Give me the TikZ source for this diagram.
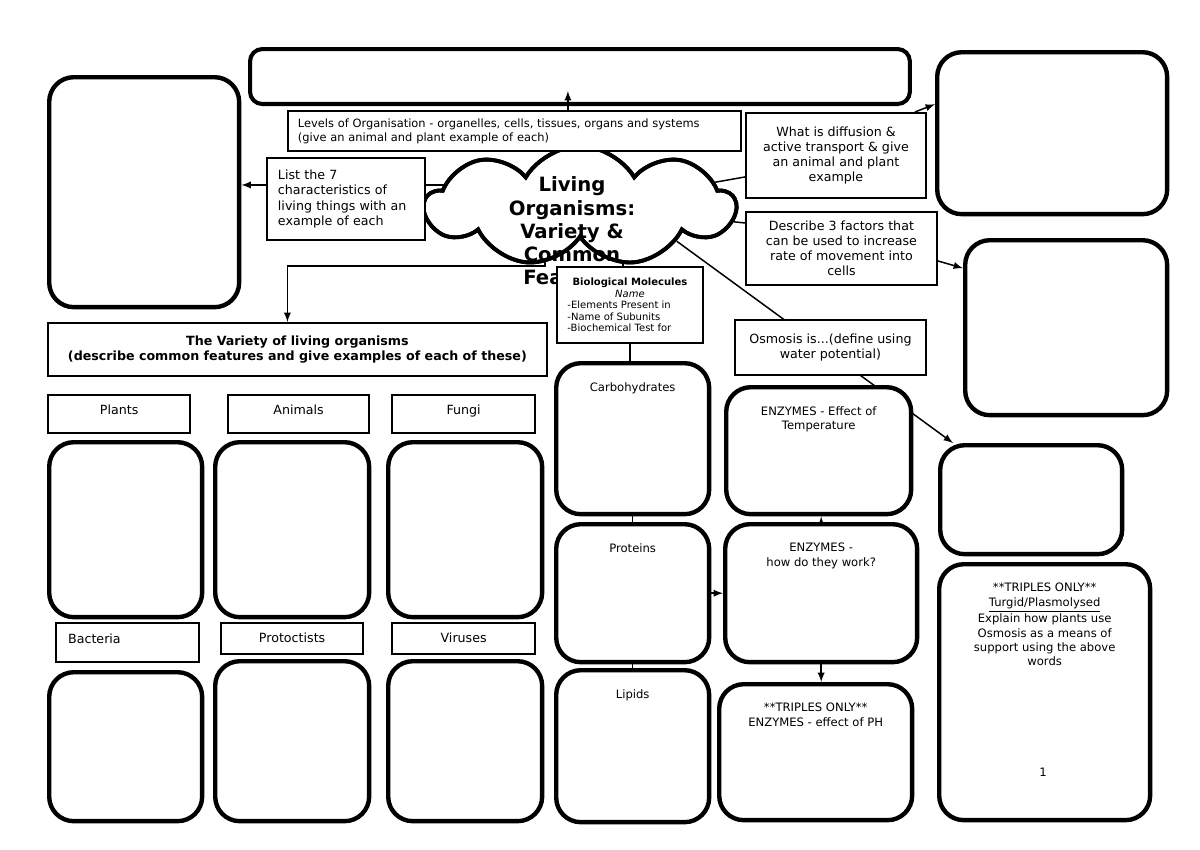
\documentclass[tikz,border=0pt]{standalone}
\usepackage{fontspec}
\setmainfont{DejaVu Sans}
\usetikzlibrary{
    arrows,
    shapes.symbols,
    positioning,
    backgrounds
}

\begin{document}
\begin{tikzpicture}[x=0.02cm, y=-0.02cm,
    bigbox/.style={draw, line width=2.5pt, rounded corners=14pt, fill=white, anchor=north west, inner sep=0pt},
    txtbox/.style={draw, line width=1.1pt, fill=white, anchor=north west, align=center, font=\fontsize{7.2}{8.6}\selectfont},
    tag/.style={txtbox, line width=1.3pt, text depth=5pt},
    boxhead/.style={anchor=north, align=center, font=\fontsize{6.6}{8.2}\selectfont},
    blob/.style={cloud, cloud puffs=9, cloud puff arc=120, aspect=2.6, line width=2.2pt, minimum width=6.2cm, minimum height=2.4cm},
    link/.style={line width=0.85pt},
    arr/.style={link, -latex}]
                        \useasboundingbox (0,0) rectangle (1200,849);
                        \node[bigbox, rounded corners=7pt, line width=2.3pt, minimum width=13.2cm, minimum height=1.1cm] (topbar) at (248,47) {};
                        \node[bigbox, minimum width=3.8cm, minimum height=4.6cm] (leftbig) at (47,75) {};
                        \node[bigbox, minimum width=4.6cm, minimum height=3.24cm] (diffbig) at (935,50) {};
                        \node[bigbox, minimum width=4.04cm, minimum height=3.5cm] (factbig) at (963,238) {};
                        \node[bigbox, minimum width=3.64cm, minimum height=2.18cm] (osmobig) at (938,443) {};
                        \node[bigbox, minimum width=4.22cm, minimum height=5.12cm] (turgid) at (937,562) {};
                        \node[boxhead] (turgidhead) at ([yshift=-0.3cm]turgid.north) {**TRIPLES ONLY**\\\underline{Turgid/Plasmolysed}\\Explain how plants use\\Osmosis as a means of\\support using the above\\words};
                        \node[boxhead, anchor=center] (pagenum) at (1043,772) {1};
                        % centre of the map
                        \node[blob, draw, fill=white] (cloud) at (580,206) {};
                        \node[font=\bfseries\fontsize{11.2}{13.2}\selectfont, align=center] (title) at (572,231) {Living\\Organisms:\\Variety \&\\Common\\Features};
                        \node[blob, draw] (cloudrim) at (cloud) {};
                        \node[txtbox, align=left, text width=8.66cm, inner xsep=0.2cm, minimum height=0.8cm, font=\fontsize{6.5}{7.9}\selectfont] (levels) at (287,110) {Levels of Organisation - organelles, cells, tissues, organs and systems\\(give an animal and plant example of each)};
                        \node[txtbox, align=left, text width=2.72cm, inner xsep=0.22cm, minimum height=1.64cm] (list) at (266,157) {List the 7\\characteristics of\\living things with an\\example of each};
                        \node[txtbox, minimum width=3.6cm, minimum height=1.7cm] (what) at (745,112) {What is diffusion \&\\active transport \& give\\an animal and plant\\example};
                        \node[txtbox, minimum width=3.82cm, minimum height=1.46cm] (describe) at (745,211) {Describe 3 factors that\\can be used to increase\\rate of movement into\\cells};
                        \node[txtbox, minimum width=3.82cm, minimum height=1.1cm] (osmosis) at (734,319) {Osmosis is...(define using\\water potential)};
                        \node[txtbox, align=left, minimum width=2.92cm, minimum height=1.52cm, font=\fontsize{5.7}{6.5}\selectfont] (bio) at (556,266) {\makebox[2.5cm]{\bfseries Biological Molecules}\\\makebox[2.5cm]{\itshape Name}\\-Elements Present in\\-Name of Subunits\\-Biochemical Test for};
                        % biological molecules and enzymes
                        \node[bigbox, minimum width=3.06cm, minimum height=3.02cm] (carb) at (554,361) {};
                        \node[boxhead] (carbhead) at ([yshift=-0.3cm]carb.north) {Carbohydrates};
                        \node[bigbox, minimum width=3.06cm, minimum height=2.76cm] (prot) at (554,522) {};
                        \node[boxhead] (prothead) at ([yshift=-0.3cm]prot.north) {Proteins};
                        \node[bigbox, minimum width=3.06cm, minimum height=3.04cm] (lip) at (554,668) {};
                        \node[boxhead] (liphead) at ([yshift=-0.3cm]lip.north) {Lipids};
                        \node[bigbox, minimum width=3.7cm, minimum height=2.54cm] (enztemp) at (724,385) {};
                        \node[boxhead] (enztemphead) at ([yshift=-0.3cm]enztemp.north) {ENZYMES - Effect of\\Temperature};
                        \node[bigbox, minimum width=3.84cm, minimum height=2.76cm] (enzhow) at (723,522) {};
                        \node[boxhead] (enzhowhead) at ([yshift=-0.3cm]enzhow.north) {ENZYMES -\\how do they work?};
                        \node[bigbox, minimum width=3.86cm, minimum height=2.72cm] (enzph) at (717,682) {};
                        \node[boxhead] (enzphhead) at ([yshift=-0.3cm]enzph.north) {**TRIPLES ONLY**\\ENZYMES - effect of PH};
                        % variety of living organisms
                        \node[txtbox, minimum width=9.98cm, minimum height=1.06cm, font=\bfseries\fontsize{7.2}{8.6}\selectfont] (variety) at (47,322) {The Variety of living organisms\\(describe common features and give examples of each of these)};
                        \node[tag, minimum width=2.84cm, minimum height=0.76cm] (plantstag) at (47,394) {Plants};
                        \node[tag, minimum width=2.82cm, minimum height=0.76cm] (animalstag) at (227,394) {Animals};
                        \node[tag, minimum width=2.86cm, minimum height=0.76cm] (fungitag) at (391,394) {Fungi};
                        \node[bigbox, minimum width=3.06cm, minimum height=3.5cm] (plantsbig) at (47,440) {};
                        \node[bigbox, minimum width=3.08cm, minimum height=3.5cm] (animalsbig) at (213,440) {};
                        \node[bigbox, minimum width=3.08cm, minimum height=3.5cm] (fungibig) at (386,440) {};
                        \node[tag, align=left, text width=2.38cm, inner xsep=0.24cm, minimum height=0.78cm] (bacttag) at (55,622) {Bacteria};
                        \node[tag, minimum width=2.84cm, minimum height=0.62cm, text depth=1pt] (prottag) at (220,622) {Protoctists};
                        \node[tag, minimum width=2.86cm, minimum height=0.62cm, text depth=1pt] (virtag) at (391,622) {Viruses};
                        \node[bigbox, minimum width=3.06cm, minimum height=2.98cm] (bactbig) at (47,670) {};
                        \node[bigbox, minimum width=3.08cm, minimum height=3.2cm] (protbig) at (213,659) {};
                        \node[bigbox, minimum width=3.08cm, minimum height=3.2cm] (virbig) at (386,659) {};
                        \draw[arr] ([xshift=1.07cm]levels.north) -- ([xshift=1.07cm, yshift=0.3cm]levels.north |- topbar.south);
                        \begin{scope}[on background layer]
                        \draw[arr] ([yshift=0.28cm]list.west) -- ([yshift=0.28cm]list.west -| leftbig.east);
                        \draw[link] ([yshift=0.28cm]list.east) -- ([yshift=0.28cm]list.east -| cloud.center);
                        \draw[link] (cloud) -- ([yshift=-0.43cm]what.west);
                        \draw[arr] ([xshift=-0.24cm]what.north east) -- ([yshift=0.58cm]diffbig.west);
                        \draw[link] (cloud) -- ([yshift=0.51cm]describe.west);
                        \draw[arr] ([yshift=-0.25cm]describe.east) -- ([yshift=1.19cm]factbig.west);
                        \draw[arr] (cloud.-20) -- ([xshift=0.3cm]osmobig.north west);
                        \draw[link] ([xshift=-0.14cm]bio.north) -- ([xshift=-0.14cm]bio.north |- cloud.center);
                        \draw[arr] ([xshift=-0.7cm]cloud.center) -- ([xshift=-0.7cm]cloud.center |- bio.north) -| ([xshift=-0.2cm]variety.north);
                        \draw[link] (bio) -- (bio |- carb);
                        \draw[link] (carb) -- (prot);
                        \draw[link] (prot) -- (lip);
                        \draw[arr] (prot) -- (enzhow);
                        \draw[arr] (enzhow) -- (enzhow |- enztemp.south);
                        \draw[arr] (enzhow) -- (enzhow |- enzph.north);
                        \end{scope}
                    \end{tikzpicture}
\end{document}
